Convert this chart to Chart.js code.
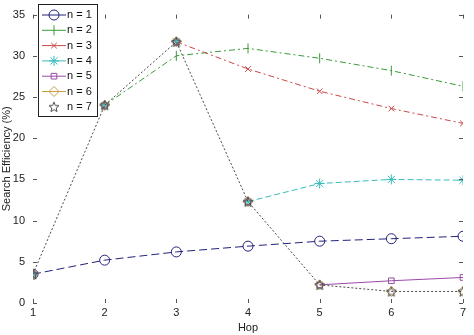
<!DOCTYPE html>
<html><head><meta charset="utf-8">
<script src="https://cdn.jsdelivr.net/npm/chart.js@4.4.1/dist/chart.umd.min.js"></script>
<style>html,body{margin:0;padding:0;background:#fff}#wrap{width:474px;height:335px}</style>
</head><body><div id="wrap"><canvas id="c"></canvas></div>
<script>
const hops = [1, 2, 3, 4, 5, 6, 7];
const seriesNames = ['n = 1', 'n = 2', 'n = 3', 'n = 4', 'n = 5', 'n = 6', 'n = 7'];
const n1 = [3.5, 5.2, 6.2, 6.9, 7.5, 7.8, 8.1];
const n2 = [3.5, 24.0, 30.0, 30.9, 29.7, 28.2, 26.3];
const n3 = [3.5, 24.0, 31.7, 28.4, 25.7, 23.6, 21.8];
const n4 = [3.5, 24.0, 31.7, 12.3, 14.5, 15.0, 14.9];
const n5 = [3.5, 24.0, 31.7, 12.3, 2.2, 2.7, 3.1];
const n6 = [3.5, 24.0, 31.7, 12.3, 2.2, 1.4, 1.4];
const n7 = [3.5, 24.0, 31.7, 12.3, 2.2, 1.4, 1.4];
const yTicks = [0, 5, 10, 15, 20, 25, 30, 35];
const xTicks = [1, 2, 3, 4, 5, 6, 7];

function starImg(color) {
  const c = document.createElement('canvas');
  c.width = 12; c.height = 12;
  const g = c.getContext('2d');
  g.strokeStyle = color; g.lineWidth = 1;
  g.beginPath();
  for (let i = 0; i < 10; i++) {
    const r = i % 2 === 0 ? 5.2 : 2.3;
    const a = -Math.PI / 2 + i * Math.PI / 5;
    const x = 6 + r * Math.cos(a), y = 6.5 + r * Math.sin(a);
    if (i === 0) g.moveTo(x, y); else g.lineTo(x, y);
  }
  g.closePath(); g.stroke();
  return c;
}

const styles = [
  {color: '#23237a', point: 'circle', dash: [8, 4], r: 5},
  {color: '#3a9a3a', point: 'line', rot: 90, dash: [6, 3, 2, 3], r: 5},
  {color: '#cc4848', point: 'crossRot', dash: [6, 3, 2, 3], r: 4},
  {color: '#3bbcbc', point: 'star', dash: [6, 3], r: 5},
  {color: '#9a4aa8', point: 'rect', dash: [], r: 4},
  {color: '#c8a040', point: 'rectRot', dash: [6, 3], r: 5},
  {color: '#4a4a4a', point: starImg('#4a4a4a'), dash: [2, 2], r: 5},
];
const allData = [n1, n2, n3, n4, n5, n6, n7];

// a segment shared with a later series is covered by that series' line
function covered(i, j) {
  for (let k = i + 1; k < allData.length; k++) {
    if (allData[k][j] === allData[i][j] && allData[k][j + 1] === allData[i][j + 1]) return true;
  }
  return false;
}

const datasets = allData.map((d, i) => ({
  label: seriesNames[i],
  data: hops.map((h, j) => ({x: h, y: d[j]})),
  order: 6 - i,
  borderColor: styles[i].color,
  backgroundColor: 'rgba(0,0,0,0)',
  borderWidth: 1,
  borderDash: styles[i].dash,
  segment: {
    borderColor: ctx => covered(i, ctx.p0DataIndex) ? 'rgba(0,0,0,0)' : styles[i].color
  },
  pointStyle: styles[i].point,
  pointRotation: styles[i].rot || 0,
  pointRadius: styles[i].r,
  pointBorderWidth: 1,
  pointBorderColor: styles[i].color,
  pointBackgroundColor: 'rgba(0,0,0,0)',
  tension: 0,
}));

const tickPlugin = {
  id: 'ticks',
  afterDraw(chart) {
    const {ctx, chartArea: a, scales: {x, y}} = chart;
    ctx.save();
    ctx.strokeStyle = '#555';
    ctx.lineWidth = 1;
    ctx.beginPath();
    yTicks.forEach(v => {
      const py = Math.round(y.getPixelForValue(v)) + 0.5;
      ctx.moveTo(a.left, py); ctx.lineTo(a.left + 4, py);
      ctx.moveTo(a.right - 4, py); ctx.lineTo(a.right, py);
    });
    xTicks.forEach(v => {
      const px = Math.round(x.getPixelForValue(v)) + 0.5;
      ctx.moveTo(px, a.bottom); ctx.lineTo(px, a.bottom - 4);
      ctx.moveTo(px, a.top); ctx.lineTo(px, a.top + 4);
    });
    ctx.stroke();
    // legend
    const lx = 38, ly = 4, lw = 59, lh = 112;
    ctx.fillStyle = '#fff';
    ctx.fillRect(lx, ly, lw, lh);
    ctx.strokeStyle = '#222';
    ctx.strokeRect(lx + 0.5, ly + 0.5, lw, lh);
    ctx.font = '11px "Liberation Sans", Arial, sans-serif';
    ctx.textBaseline = 'middle';
    seriesNames.forEach((name, i) => {
      const cy = ly + 11 + i * 15.3;
      const s = styles[i];
      ctx.strokeStyle = s.color;
      ctx.fillStyle = 'rgba(0,0,0,0)';
      ctx.setLineDash([]);
      if (i !== 6) {
        ctx.beginPath(); ctx.moveTo(lx + 4, cy); ctx.lineTo(lx + 28, cy); ctx.stroke();
      }
      Chart.helpers.drawPoint(ctx, {pointStyle: s.point, radius: s.r, rotation: s.rot || 0, borderWidth: 1}, lx + 16, cy);
      ctx.fillStyle = '#111';
      ctx.fillText(name, lx + 29, cy);
    });
    ctx.restore();
  }
};

new Chart(document.getElementById('c'), {
  type: 'line',
  data: {datasets},
  plugins: [tickPlugin],
  options: {
    responsive: true, maintainAspectRatio: false, animation: false,
    layout: {padding: {top: 4, right: 11, left: 0, bottom: 0}},
    plugins: {legend: {display: false}, tooltip: {enabled: false}},
    scales: {
      x: {
        type: 'linear', min: 1, max: 7,
        afterBuildTicks: s => { s.ticks = xTicks.map(v => ({value: v})); },
        afterFit: s => { s.height = 32; },
        grid: {display: false, drawTicks: false},
        border: {display: false},
        ticks: {color: '#222', padding: 3, font: {size: 11, family: '"Liberation Sans", Arial, sans-serif'}},
        title: {display: true, text: 'Hop', color: '#222', padding: {top: 0, bottom: 0}, font: {size: 11, family: '"Liberation Sans", Arial, sans-serif'}}
      },
      y: {
        min: 0, max: 35,
        afterBuildTicks: s => { s.ticks = yTicks.map(v => ({value: v})); },
        afterFit: s => { s.width = 33; },
        grid: {display: false, drawTicks: false},
        border: {display: false},
        ticks: {color: '#222', padding: 8, font: {size: 11, family: '"Liberation Sans", Arial, sans-serif'}},
        title: {display: true, text: 'Search Efficiency (%)', color: '#222', padding: {top: 0, bottom: 0}, font: {size: 11, family: '"Liberation Sans", Arial, sans-serif'}}
      }
    }
  }
});
</script></body></html>
